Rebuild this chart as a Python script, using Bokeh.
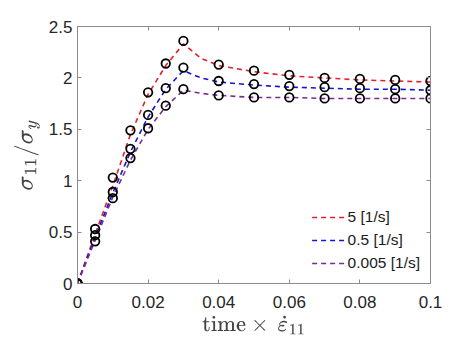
from bokeh.plotting import figure
from bokeh.models import Range1d, LinearAxis, FixedTicker, Legend, LegendItem, TeX
from bokeh.embed import file_html
from bokeh.resources import INLINE

# marker data (time x strain rate)
x_pts = [0.0, 0.005, 0.01, 0.015, 0.02, 0.025, 0.03, 0.04, 0.05, 0.06, 0.07, 0.08, 0.09, 0.1]
red_pts = [0.0, 0.53, 1.03, 1.49, 1.86, 2.14, 2.36, 2.13, 2.07, 2.03, 2.00, 1.99, 1.98, 1.97]
blue_pts = [0.0, 0.47, 0.89, 1.31, 1.64, 1.90, 2.10, 1.97, 1.94, 1.92, 1.91, 1.90, 1.89, 1.88]
purple_pts = [0.0, 0.41, 0.83, 1.22, 1.51, 1.73, 1.89, 1.83, 1.81, 1.81, 1.80, 1.80, 1.80, 1.80]

# model curves (dashed)
x_line = [0.0, 0.005, 0.01, 0.015, 0.02, 0.025, 0.03, 0.035, 0.04, 0.05, 0.06, 0.07, 0.08, 0.09, 0.1]
red_line = [0.0, 0.48, 0.95, 1.45, 1.84, 2.12, 2.33, 2.19, 2.12, 2.06, 2.02, 2.00, 1.98, 1.97, 1.96]
blue_line = [0.0, 0.45, 0.88, 1.28, 1.62, 1.89, 2.07, 2.00, 1.96, 1.93, 1.91, 1.90, 1.89, 1.89, 1.88]
purple_line = [0.0, 0.42, 0.84, 1.20, 1.50, 1.72, 1.88, 1.85, 1.83, 1.81, 1.81, 1.80, 1.80, 1.80, 1.80]

labels = ["5 [1/s]", "0.5 [1/s]", "0.005 [1/s]"]
colors = ["#e3202a", "#1414d2", "#7a2d8c"]

x_ticks = [0, 0.02, 0.04, 0.06, 0.08, 0.1]
y_ticks = [0, 0.5, 1, 1.5, 2, 2.5]
x_tick_labels = ["0", "0.02", "0.04", "0.06", "0.08", "0.1"]
y_tick_labels = ["0", "0.5", "1", "1.5", "2", "2.5"]

p = figure(width=474, height=353, output_backend="svg", toolbar_location=None,
           x_range=Range1d(0, 0.1), y_range=Range1d(0, 2.5),
           min_border_left=77, min_border_right=44, min_border_top=26, min_border_bottom=70)
p.grid.visible = False
p.outline_line_color = "#8c8c8c"
p.background_fill_color = "white"
p.border_fill_color = "white"

items = []
for yl, c, lab in zip([red_line, blue_line, purple_line], colors, labels):
    r = p.line(x_line, yl, line_color=c, line_width=1.6, line_dash="5 4")
    items.append(LegendItem(label=lab, renderers=[r]))
for yp in [red_pts, blue_pts, purple_pts]:
    p.scatter(x_pts, yp, marker="circle", size=8.5, fill_color="white", fill_alpha=0.0,
              line_color="black", line_width=1.8)

def style(ax, ticks, labs, show):
    ax.ticker = FixedTicker(ticks=ticks)
    ax.major_label_overrides = {t: (l if show else "") for t, l in zip(ticks, labs)}
    ax.axis_line_color = "#8c8c8c"
    ax.major_tick_line_color = "#8c8c8c"
    ax.major_tick_in = 4
    ax.major_tick_out = 0
    ax.minor_tick_line_color = None
    ax.major_label_text_font = "Liberation Sans"
    ax.major_label_text_font_size = "17px"
    ax.major_label_text_color = "#262626"

xb = p.xaxis[0]
yl_ax = p.yaxis[0]
style(xb, x_ticks, x_tick_labels, True)
style(yl_ax, y_ticks, y_tick_labels, True)
top = LinearAxis()
right = LinearAxis()
style(top, x_ticks, x_tick_labels, False)
style(right, y_ticks, y_tick_labels, False)
p.add_layout(top, "above")
p.add_layout(right, "right")

xb.axis_label = TeX(text=r"\text{time}\times\,\dot{\varepsilon}_{11}")
yl_ax.axis_label = TeX(text=r"\sigma_{11}/\sigma_{y}")
xb.axis_label_text_font_size = "18px"
yl_ax.axis_label_text_font_size = "20px"
xb.axis_label_standoff = 3
yl_ax.axis_label_standoff = 6
xb.major_label_standoff = 12
yl_ax.major_label_standoff = 5

legend = Legend(items=items, location="bottom_right")
legend.border_line_color = None
legend.background_fill_alpha = 0.0
legend.label_text_font = "Liberation Sans"
legend.label_text_font_size = "15.5px"
legend.label_text_color = "#1a1a1a"
legend.glyph_width = 34
legend.label_standoff = 2
legend.spacing = 3
legend.label_height = 18
legend.margin = 10
legend.padding = 2
p.add_layout(legend)

open("out.html", "w").write(file_html(p, INLINE))
